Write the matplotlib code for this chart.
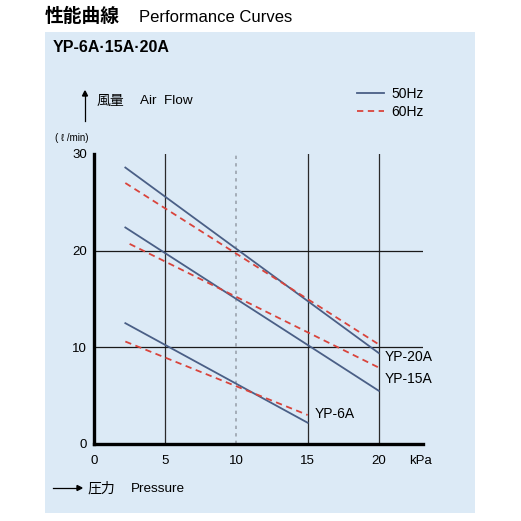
import numpy as np
import matplotlib.pyplot as plt
from matplotlib.patches import Rectangle

plt.rcParams['font.family'] = ['Liberation Sans', 'Noto Sans CJK JP', 'DejaVu Sans']

# pressure (kPa) at start / end of each curve, air flow (l/min)
models = ['YP-20A', 'YP-15A', 'YP-6A']
p_50 = {'YP-20A': [2.2, 20.0], 'YP-15A': [2.2, 20.0], 'YP-6A': [2.2, 15.0]}
q_50 = {'YP-20A': [28.6, 9.4], 'YP-15A': [22.4, 5.5], 'YP-6A': [12.5, 2.2]}
p_60 = {'YP-20A': [2.2, 20.0], 'YP-15A': [2.5, 20.0], 'YP-6A': [2.2, 15.0]}
q_60 = {'YP-20A': [27.0, 10.3], 'YP-15A': [20.7, 7.9], 'YP-6A': [10.6, 3.0]}
label_pos = {'YP-20A': (20.4, 9.0), 'YP-15A': (20.4, 6.7), 'YP-6A': (15.5, 3.1)}

x_ticks = [0, 5, 10, 15, 20]
y_ticks = [0, 10, 20, 30]

W = 521
fig = plt.figure(figsize=(5.21, 5.21), dpi=100)

def fx(px):
    return px / W

def fy(py):
    return 1 - py / W

# light blue panel
fig.patches.append(Rectangle((fx(45), fy(513)), fx(430), 481 / W, transform=fig.transFigure,
                             facecolor='#dceaf6', edgecolor='none', zorder=-5))

fig.text(fx(45), fy(17), '性能曲線', fontsize=13.5, fontweight='bold', va='center',
         family=['Noto Sans CJK JP'])
fig.text(fx(139), fy(18), 'Performance Curves', fontsize=12, va='center')
fig.text(fx(53), fy(48), 'YP-6A·15A·20A', fontsize=11.5, fontweight='bold', va='center')

ax = fig.add_axes([fx(94), fy(444), fx(423 - 94), 290 / W])
ax.set_facecolor('none')
ax.set_xlim(0, 23.1)
ax.set_ylim(0, 30)

# grid
for xv in [5, 15, 20]:
    ax.plot([xv, xv], [0, 30], color='#2a2a2a', lw=0.9, zorder=1)
ax.plot([10, 10], [0, 30], color='#9aa3ad', lw=1.2, ls=(0, (2, 2.5)), zorder=1)
for yv in [10, 20]:
    ax.plot([0, 23.1], [yv, yv], color='#1a1a1a', lw=0.9, zorder=1)

for m in models:
    l50, = ax.plot(p_50[m], q_50[m], color='#4a5f86', lw=1.3, zorder=3)
    l60, = ax.plot(p_60[m], q_60[m], color='#d9443c', lw=1.3, ls=(0, (3.5, 2.5)), zorder=4)
    ax.text(*label_pos[m], m, fontsize=10, va='center', ha='left')

for s in ['top', 'right']:
    ax.spines[s].set_visible(False)
ax.spines['left'].set_linewidth(2.4)
ax.spines['bottom'].set_linewidth(2.4)
ax.set_xticks(x_ticks)
ax.set_yticks(y_ticks)
ax.tick_params(length=0, labelsize=9.5)
ax.tick_params(axis='x', pad=8)
ax.tick_params(axis='y', pad=5)
ax.text(22.9, -1.75, 'kPa', fontsize=9.5, ha='center', va='center')

l50.set_label('50Hz')
l60.set_label('60Hz')
fig.legend(handles=[l50, l60], loc='center left', bbox_to_anchor=(fx(357), fy(103)),
           frameon=False, fontsize=10, handlelength=1.95, handletextpad=0.5,
           labelspacing=0.3, borderaxespad=0, borderpad=0)

# axis captions
fig.add_artist(plt.Line2D([fx(85), fx(85)], [fy(121), fy(96)], color='black', lw=0.9))
fig.patches.append(plt.Polygon([(fx(82.5), fy(96)), (fx(87.5), fy(96)), (fx(85), fy(91))],
                               closed=True, transform=fig.transFigure, color='black'))
fig.text(fx(97), fy(101), '風量', fontsize=10, va='center', family=['Noto Sans CJK JP'])
fig.text(fx(140), fy(101), 'Air  Flow', fontsize=9.7, va='center')
fig.text(fx(72), fy(138), '( ℓ /min)', fontsize=7, ha='center', va='center')

fig.add_artist(plt.Line2D([fx(53), fx(77)], [fy(488), fy(488)], color='black', lw=0.9))
fig.patches.append(plt.Polygon([(fx(77), fy(485.5)), (fx(77), fy(490.5)), (fx(82), fy(488))],
                               closed=True, transform=fig.transFigure, color='black'))
fig.text(fx(87), fy(489), '圧力', fontsize=10, va='center', family=['Noto Sans CJK JP'])
fig.text(fx(131), fy(489), 'Pressure', fontsize=9.7, va='center')

fig.savefig('out.png', dpi=100, facecolor='white')
